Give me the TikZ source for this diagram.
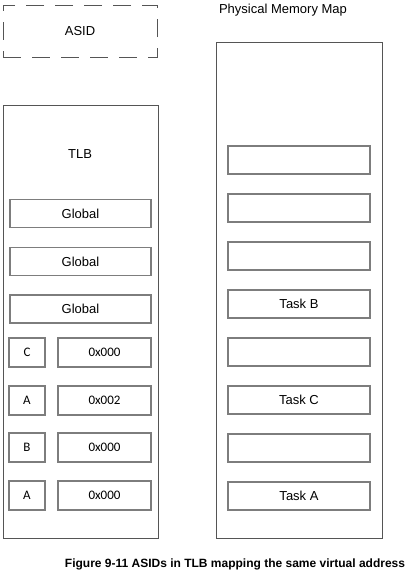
\documentclass[tikz,border=0pt]{standalone}
\usepackage{fontspec}
\setmainfont{Liberation Sans}
\newfontfamily\calibrifont{Carlito}
\usetikzlibrary{positioning}
\definecolor{framegray}{RGB}{85,85,85}
\definecolor{cellgray}{RGB}{125,125,125}
\tikzstyle{framebox}=[draw=framegray,line width=0.9pt,inner sep=0pt]
\tikzstyle{cellbox}=[draw=cellgray,line width=1.1pt,inner sep=0pt,minimum height=28pt]
\tikzstyle{hexcell}=[cellbox,font=\calibrifont\fontsize{13}{15}\selectfont]

\begin{document}
\begin{tikzpicture}[x=1pt,y=-1pt,font=\fontsize{13}{15}\selectfont]
    \useasboundingbox (0,0) rectangle (414,571);
    % ASID
    \node[framebox,dashed,dash pattern=on 18pt off 11pt,
          minimum width=154pt,minimum height=52pt] (asid) at (80,31) {ASID};
    % TLB
    \node[framebox,minimum width=155pt,minimum height=433pt] (tlb) at (80.5,321.5) {};
    \node (tlblabel) at (80,154) {TLB};
    \foreach \y [count=\i] in {213.5,261.5,309}
        \node[cellbox,minimum width=141pt] (global\i) at (80.5,\y) {Global};
    \foreach \y/\tag/\addr [count=\i] in {352.5/C/0x000,400.5/A/0x002,447.5/B/0x000,495.5/A/0x000}
    {
        \node[hexcell,minimum width=36pt,minimum height=29pt] (tag\i) at (27,\y) {\tag};
        \node[hexcell,minimum width=93pt,minimum height=29pt] (addr\i) at (104.5,\y) {\addr};
    }
    % physical memory
    \node (pmtitle) at (283,10) {Physical Memory Map};
    \node[framebox,minimum width=166pt,minimum height=496pt] (pmem) at (299,290) {};
    \foreach \lbl [count=\i] in {{},{},{},Task B,{},Task C,{},Task A}
        \node[cellbox,minimum width=142pt] (page\i) at (299,{112+48*\i}) {\lbl};
    \node[font=\bfseries\fontsize{12}{14}\selectfont] (caption) at (235,564.5)
        {Figure 9-11 ASIDs in TLB mapping the same virtual address};
\end{tikzpicture}
\end{document}
